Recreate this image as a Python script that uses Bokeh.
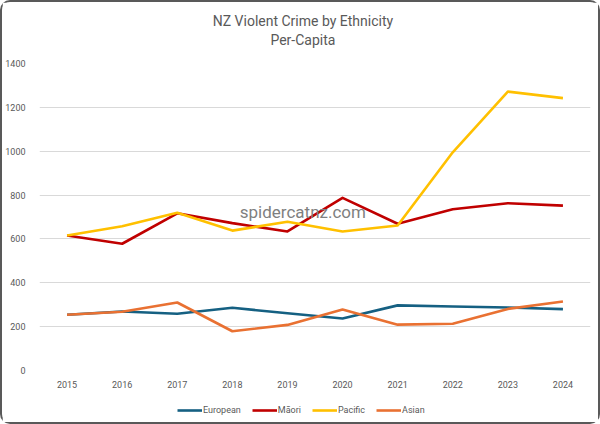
from bokeh.plotting import figure
from bokeh.models import Label, Legend, LegendItem, Range1d, FactorRange
from bokeh.layouts import column
from bokeh.embed import file_html
from bokeh.resources import INLINE

years = ["2015", "2016", "2017", "2018", "2019", "2020", "2021", "2022", "2023", "2024"]
european = [254, 269, 259, 286, 261, 237, 297, 292, 287, 280]
maori = [616, 578, 717, 672, 634, 787, 669, 735, 763, 752]
pacific = [616, 658, 719, 638, 678, 634, 661, 995, 1272, 1242]
asian = [254, 268, 310, 179, 208, 278, 209, 213, 281, 315]
series_names = ["European", "Māori", "Pacific", "Asian"]
colors = ["#156082", "#C00000", "#FFC000", "#E97132"]
y_ticks = [0, 200, 400, 600, 800, 1000, 1200, 1400]
title_lines = ["NZ Violent Crime by Ethnicity", "Per-Capita"]
watermark = "spidercatnz.com"

FONT = "Roboto"
GREY = "#595959"
EDGE = "#595959"
W = 600      # outer width including 2px side borders
FL, FR = 38, 586   # plot frame edges (page pixels); column aligns all frames to these


def style(f, border_width, radius=None):
    st = {"border-style": "solid", "border-color": EDGE, "border-width": border_width}
    if radius:
        st["border-radius"] = radius
    f.styles = st
    f.outline_line_color = None
    f.background_fill_color = "white"
    f.border_fill_color = "white"


# ---- title strip ----
tt = figure(width=W, height=52, output_backend="svg", toolbar_location=None, title=None,
            x_range=Range1d(FL, FR), y_range=Range1d(50, 0),
            x_axis_type=None, y_axis_type=None,
            min_border_left=0, min_border_right=0, min_border_top=0, min_border_bottom=0)
style(tt, "2px 2px 0 2px", "10px 10px 0 0")
tt.grid.visible = False
for txt, ypos in zip(title_lines, [18, 36]):
    tt.add_layout(Label(x=W / 2, y=ypos, text=txt, text_align="center", text_baseline="middle",
                        text_font=FONT, text_font_size="14px", text_color=GREY))

# ---- main plot ----
p = figure(width=W, height=340, x_range=FactorRange(*years), y_range=Range1d(0, 1400),
           output_backend="svg", toolbar_location=None, title=None,
           min_border_left=36, min_border_right=12, min_border_top=11, min_border_bottom=22)
style(p, "0 2px 0 2px")

p.x_range.range_padding = 0
p.yaxis.ticker = y_ticks
p.ygrid.grid_line_color = "#D9D9D9"
p.ygrid.grid_line_width = 1
p.xgrid.grid_line_color = None
for ax in (p.xaxis, p.yaxis):
    ax.axis_line_color = None
    ax.major_tick_line_color = None
    ax.minor_tick_line_color = None
    ax.major_label_text_color = GREY
    ax.major_label_text_font = FONT
    ax.major_label_text_font_size = "9px"
p.yaxis.major_label_standoff = 8
p.xaxis.major_label_standoff = 4

all_series = [european, maori, pacific, asian]
for vals, c in zip(all_series, colors):
    p.line(years, vals, line_color=c, line_width=2.6, line_join="round")

p.add_layout(Label(x=4.78, y=725, text=watermark, text_align="center",
                   text_baseline="middle", text_font=FONT, text_font_size="17px",
                   text_color="#7F7F7F"))

# ---- legend strip ----
lg = figure(width=W, height=32, output_backend="svg", toolbar_location=None, title=None,
            x_range=FactorRange(*years), y_range=Range1d(5000, 5001),
            x_axis_type=None, y_axis_type=None,
            min_border_left=0, min_border_right=0, min_border_top=0, min_border_bottom=0)
style(lg, "0 2px 2px 2px", "0 0 10px 10px")
lg.grid.visible = False
items = []
for name, vals, c in zip(series_names, all_series, colors):
    r = lg.line(years, vals, line_color=c, line_width=2.6)
    items.append(LegendItem(label=name, renderers=[r]))
legend = Legend(items=items, orientation="horizontal", location=(138, 9),
                label_text_font=FONT, label_text_font_size="9px", label_text_color=GREY,
                glyph_width=25, glyph_height=10, label_standoff=1, spacing=11,
                border_line_color=None, background_fill_alpha=0, padding=0, margin=0)
lg.add_layout(legend)

layout = column(tt, p, lg, spacing=0)
open("out.html", "w").write(file_html(layout, INLINE))
